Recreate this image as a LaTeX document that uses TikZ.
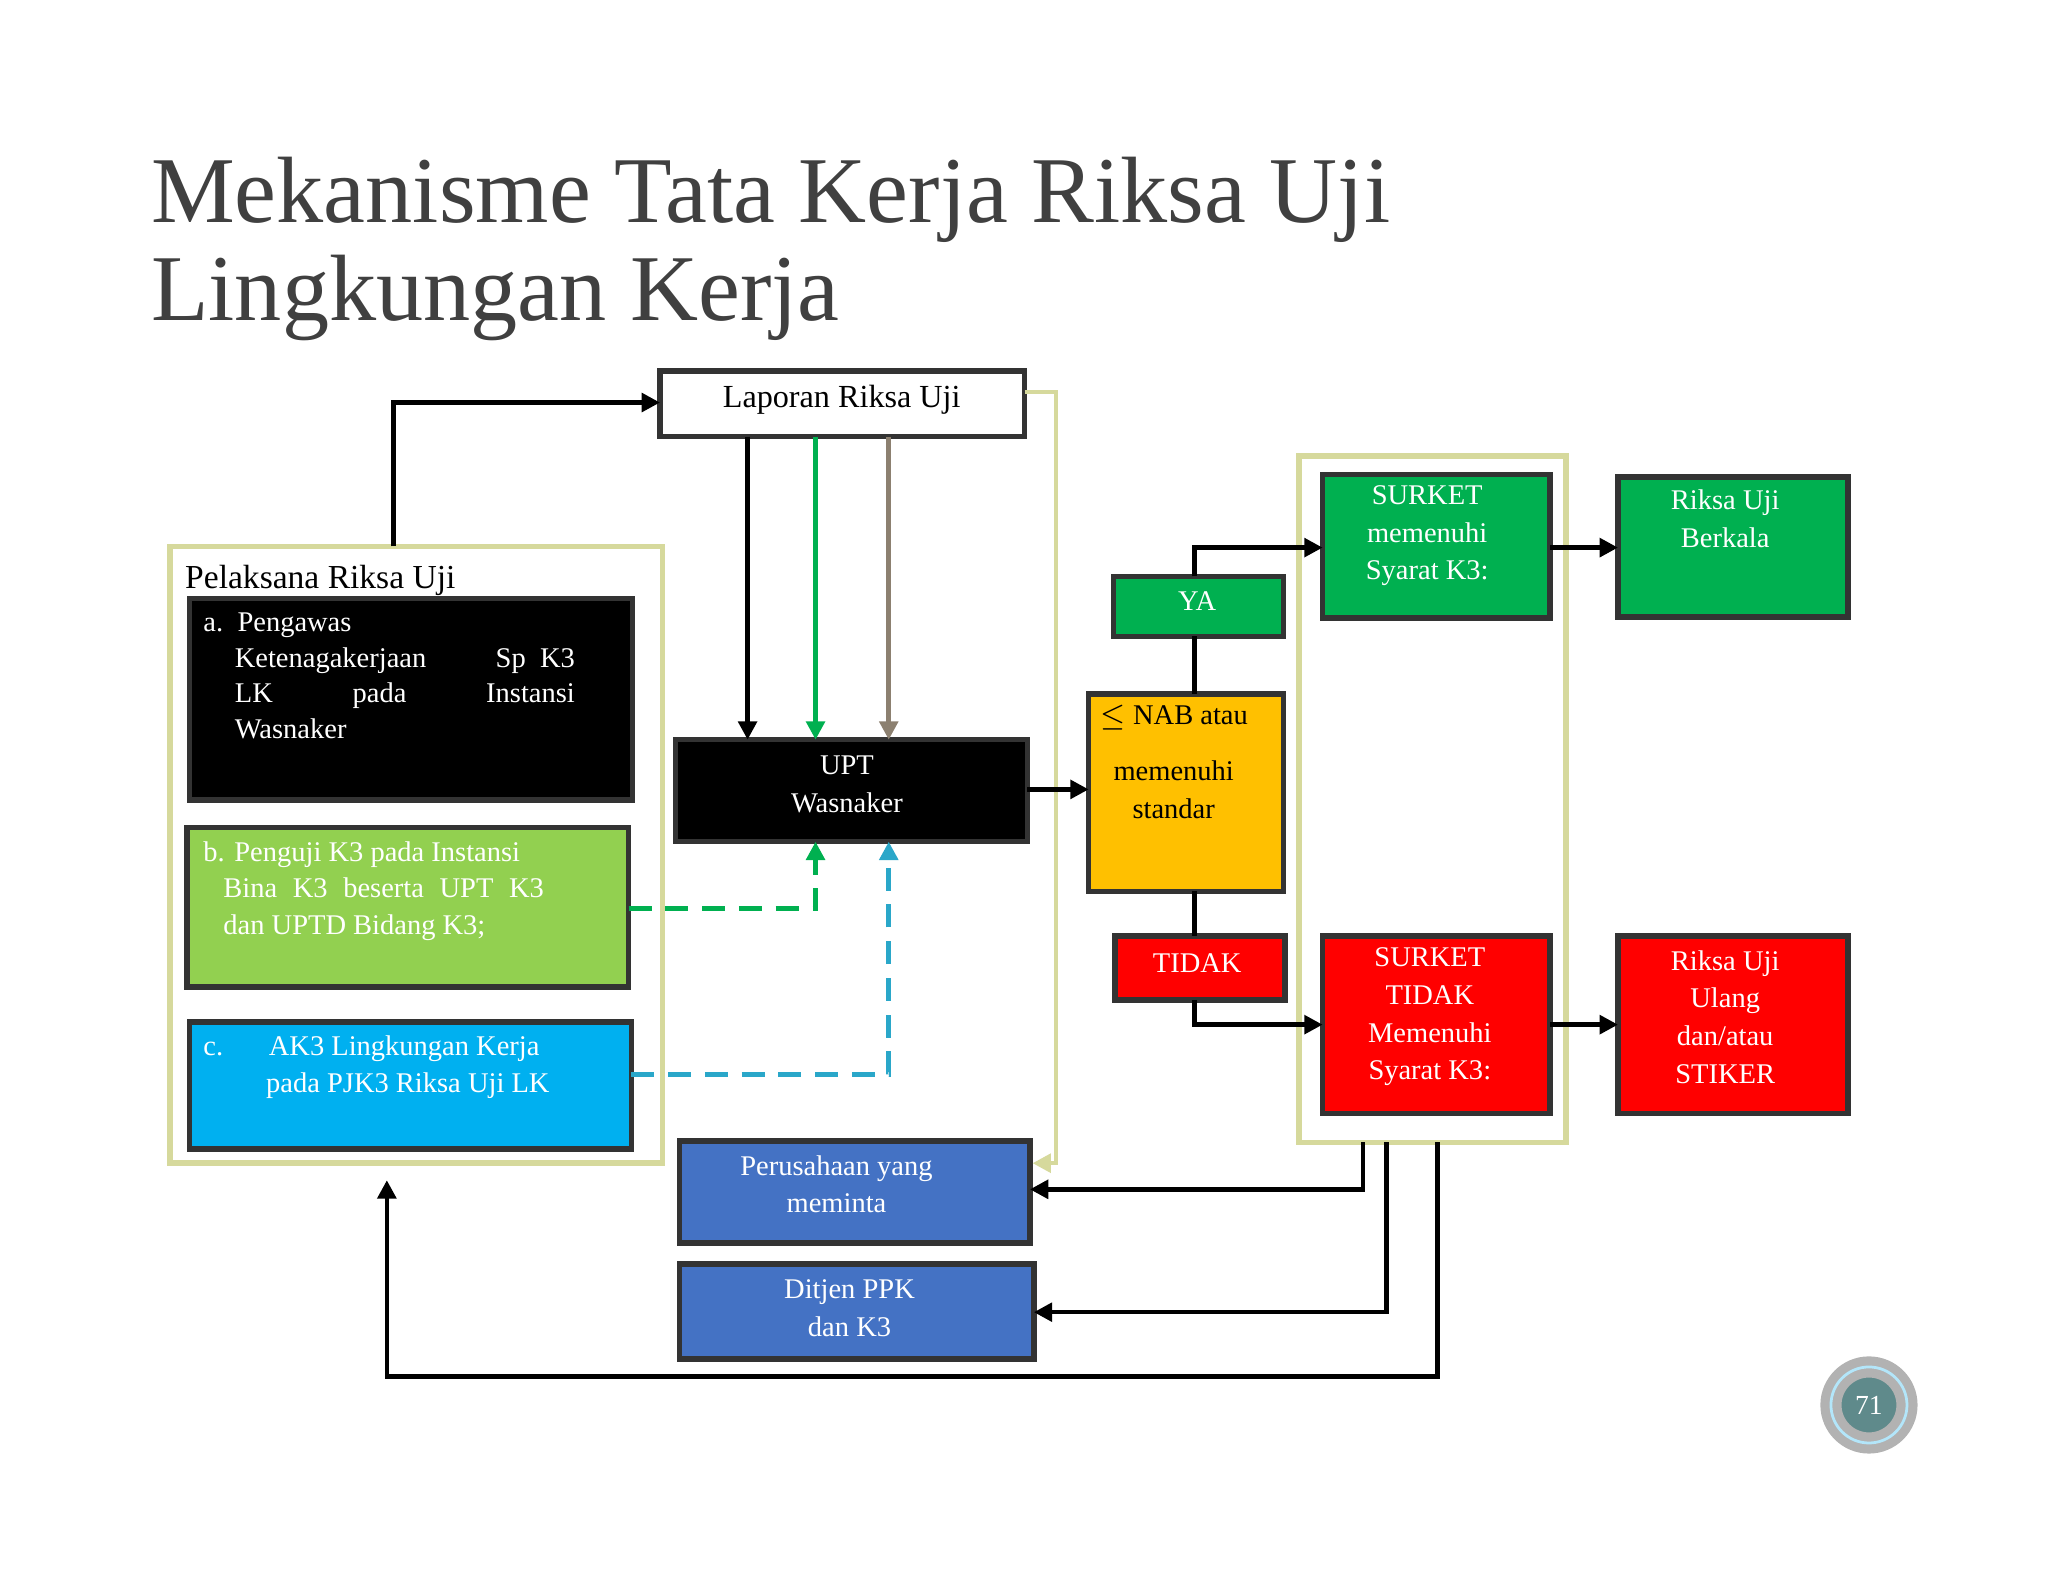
\documentclass[tikz,border=0pt]{standalone}
\usepackage{fontspec}
\setmainfont{Liberation Serif}
\usetikzlibrary{arrows.meta}
\definecolor{khaki}{HTML}{D6D99C}
\definecolor{lgreen}{HTML}{92D050}
\definecolor{dgreen}{HTML}{00B050}
\definecolor{cyanb}{HTML}{00B0F0}
\definecolor{orangeb}{HTML}{FFC000}
\definecolor{redb}{HTML}{FF0000}
\definecolor{blueb}{HTML}{4472C4}
\definecolor{grayarr}{HTML}{8C8070}
\definecolor{dashc}{HTML}{2AA7C9}
\definecolor{titlec}{HTML}{404040}
\begin{document}
\begin{tikzpicture}[x=0.01cm,y=-0.01cm,
 box/.style={draw=black!80,line width=1.2pt},
 arr/.style={-{Triangle[length=4pt,width=4pt]},line width=1pt},
 txt/.style={font=\fontsize{6.2}{8.2}\selectfont,align=center,inner sep=0pt}]
\useasboundingbox (0,0) rectangle (1567,1210);
\node[anchor=base west,text=titlec,font=\fontsize{20.5}{24}\selectfont,inner sep=0] (t1) at (115,170) {Mekanisme Tata Kerja Riksa Uji};
\node[anchor=base west,text=titlec,font=\fontsize{20.5}{24}\selectfont,inner sep=0] (t2) at (115,245) {Lingkungan Kerja};
% boxes
\draw[box,fill=white] (505,284) rectangle (784,334) coordinate (lapc);
\node[txt,font=\fontsize{7}{9}\selectfont] (lap) at (644,306) {Laporan Riksa Uji};
\draw[khaki,line width=1.2pt] (130,418) rectangle (507,890);
\node[anchor=base west,inner sep=0,font=\fontsize{7.3}{9}\selectfont] (pel) at (141,450) {Pelaksana Riksa Uji};
\draw[box,fill=black] (145,458) rectangle (484,612);
\node[anchor=north west,inner sep=0,text=white,font=\fontsize{6.2}{7.8}\selectfont,align=left] (a) at (155,468)
 {a.\ \ Pengawas\\ \hspace*{1.1em}\makebox[2.6cm][s]{Ketenagakerjaan\hfill Sp\ \ K3}\\
 \hspace*{1.1em}\makebox[2.6cm][s]{LK\hfill pada\hfill Instansi}\\ \hspace*{1.1em}Wasnaker};
\draw[box,fill=lgreen] (143,633) rectangle (481,755);
\node[anchor=north west,inner sep=0,text=white,font=\fontsize{6.2}{8}\selectfont,align=left] (b) at (155,643)
 {b. Penguji K3 pada Instansi\\ \hspace*{0.7em}\makebox[2.45cm][s]{Bina\hfill K3\hfill beserta\hfill UPT\hfill K3}\\ \hspace*{0.7em}dan UPTD Bidang K3;};
\draw[box,fill=cyanb] (145,782) rectangle (483,879);
\node[anchor=north west,inner sep=0,text=white,font=\fontsize{6.2}{8}\selectfont,align=left] (c) at (155,792)
 {c.\hspace{1.6em}AK3 Lingkungan Kerja\\ \hspace*{2.2em}pada PJK3 Riksa Uji LK};
\draw[box,fill=black] (517,566) rectangle (786,644);
\node[txt,text=white] (upt) at (648,600) {UPT\\Wasnaker};
\draw[box,fill=orangeb] (833,531) rectangle (982,682);
\node[txt] (nab) at (898,583) {$\leq$ NAB atau\\[4pt]memenuhi\\standar};
\draw[box,fill=dgreen] (852,441) rectangle (982,487);
\node[txt,text=white] (ya) at (916,460) {YA};
\draw[box,fill=redb] (853,716) rectangle (983,765);
\node[txt,text=white] (tidak) at (916,737) {TIDAK};
\draw[khaki,line width=1.2pt] (994,349) rectangle (1198,874);
\draw[box,fill=dgreen] (1012,363) rectangle (1186,473);
\node[txt,text=white] (s1) at (1092,410) {SURKET\\memenuhi\\Syarat K3:};
\draw[box,fill=dgreen] (1238,365) rectangle (1414,472);
\node[txt,text=white] (r1) at (1320,397) {Riksa Uji\\Berkala};
\draw[box,fill=redb] (1012,716) rectangle (1186,852);
\node[txt,text=white] (s2) at (1094,778) {SURKET\\TIDAK\\Memenuhi\\Syarat K3:};
\draw[box,fill=redb] (1238,716) rectangle (1414,852);
\node[txt,text=white] (r2) at (1320,778) {Riksa Uji\\Ulang\\dan/atau\\STIKER};
\draw[box,fill=blueb] (520,873) rectangle (788,951);
\node[txt,text=white] (per) at (640,906) {Perusahaan yang\\meminta};
\draw[box,fill=blueb] (520,967) rectangle (791,1040);
\node[txt,text=white] (dit) at (650,1001) {Ditjen PPK\\dan K3};
% connectors
\draw[arr] (301,418) |- (505,308);
\draw[arr] (572,334) -- (572,566);
\draw[arr,dgreen] (624,334) -- (624,566);
\draw[arr,grayarr] (680,334) -- (680,566);
\draw[arr,dgreen,dashed,dash pattern=on 5pt off 3pt] (481,695) -| (624,644);
\draw[arr,dashc,dashed,dash pattern=on 5pt off 3pt] (483,822) -| (680,644);
\draw[arr,khaki] (784,300) -- (808,300) |- (790,890);
\draw[arr] (786,604) -- (833,604);
\draw[line width=1pt] (914,487) -- (914,531);
\draw[arr] (914,441) |- (1012,419);
\draw[line width=1pt] (914,682) -- (914,716);
\draw[arr] (914,765) |- (1012,784);
\draw[arr] (1186,419) -- (1238,419);
\draw[arr] (1186,784) -- (1238,784);
\draw[arr] (1043,874) |- (788,910);
\draw[arr] (1061,874) |- (791,1004);
\draw[arr] (1100,874) |- (296,1053) -- (296,903);
% page number
\node[circle,draw=gray!60,line width=2pt,fill={rgb,255:red,95;green,138;blue,139},minimum size=0.56cm,
 text=white,font=\fontsize{6}{7}\selectfont,double=white!70!cyan,double distance=0.6pt] (pg) at (1430,1075) {71};
\end{tikzpicture}
\end{document}
